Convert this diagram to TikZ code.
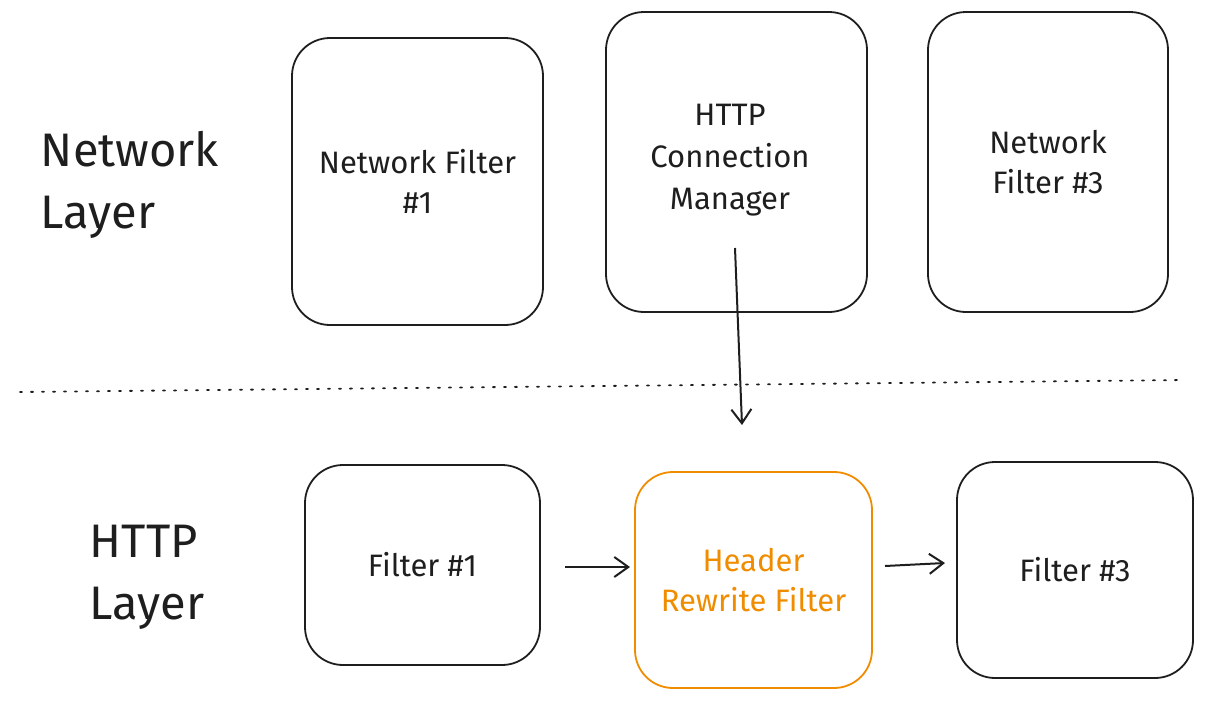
\documentclass[tikz,border=0pt]{standalone}
\usepackage{fontspec}
\setmainfont{Fira Sans}
\usetikzlibrary{arrows.meta}
\definecolor{orng}{HTML}{F08C00}
\definecolor{ink}{HTML}{1E1E1E}
\begin{document}
\begin{tikzpicture}[x=1pt,y=-1pt,
  box/.style={draw=ink,line width=1.8pt,rounded corners=38pt,align=center,font=\fontsize{31}{40}\selectfont,text=ink},
  lay/.style={align=left,font=\fontsize{47}{62}\selectfont,text=ink},
  arr/.style={draw=ink,line width=2pt,-{Straight Barb[length=14pt,width=20pt,line width=2pt]}}]
\useasboundingbox (0,0) rectangle (1224,718);
\node[lay] (nl) at (130,185) {Network\\Layer};
\node[lay] (hl) at (147,577) {HTTP\\Layer};
\node[box,minimum width=251pt,minimum height=287pt] (nf1) at (417.5,181.5) {Network Filter\\\#1};
\node[box,minimum width=261pt,minimum height=300pt] (hcm) at (736.5,162) {};
\node[font=\fontsize{31}{42}\selectfont,align=center,text=ink] (hcmt) at (730,160) {HTTP\\Connection\\Manager};
\node[box,minimum width=240pt,minimum height=300pt] (nf3) at (1048,162) {Network\\Filter \#3};
\node[box,minimum width=235pt,minimum height=200pt] (f1) at (422.5,565) {Filter \#1};
\node[box,draw=orng,text=orng,minimum width=237pt,minimum height=216pt] (hr) at (753.5,580) {Header\\Rewrite Filter};
\node[box,minimum width=236pt,minimum height=216pt] (f3) at (1075,570) {Filter \#3};
\coordinate (l1) at (20,392); \coordinate (l2) at (1185,380);
\draw[ink,line width=1.8pt,dash pattern=on 2pt off 9pt,line cap=round] (l1) -- (l2);
\coordinate (a0) at (735,248); \coordinate (a1) at (742,425);
\draw[arr] (a0) -- (a1);
\coordinate (b0) at (565,567); \coordinate (b1) at (630,567);
\draw[arr] (b0) -- (b1);
\coordinate (c0) at (885,566); \coordinate (c1) at (945,563);
\draw[arr] (c0) -- (c1);
\end{tikzpicture}
\end{document}
